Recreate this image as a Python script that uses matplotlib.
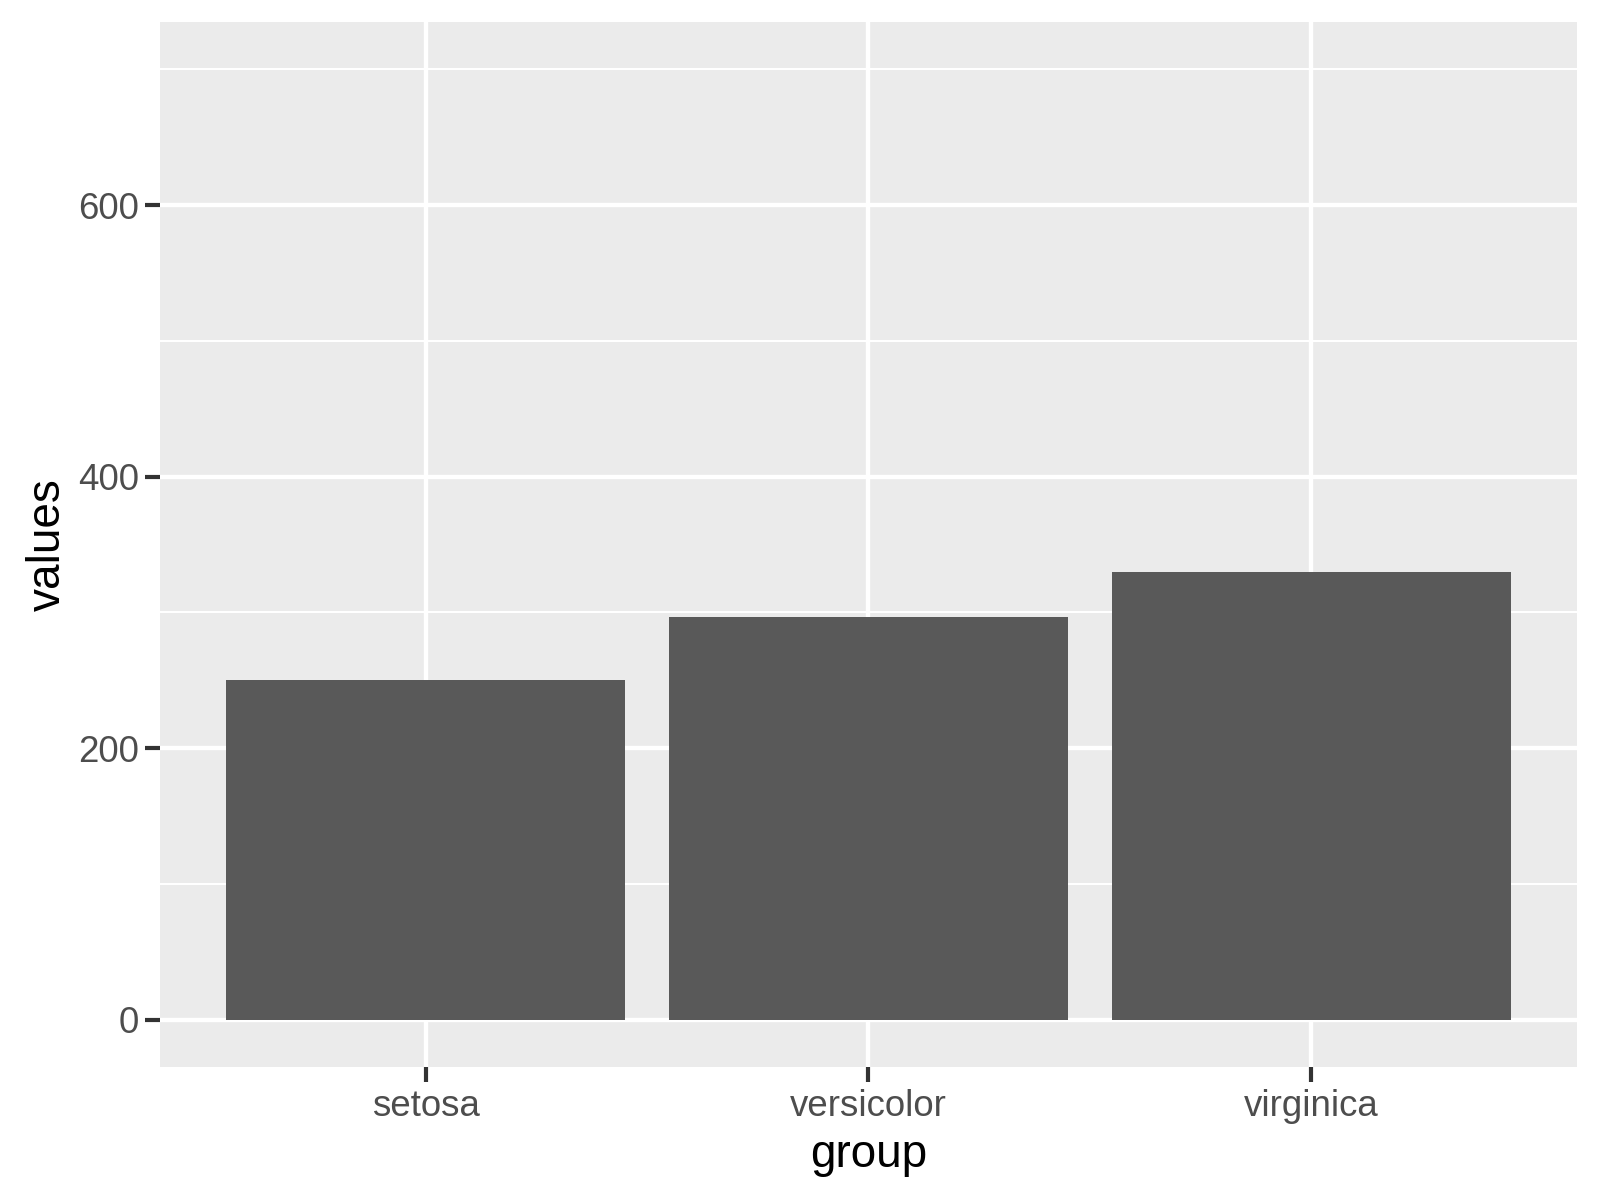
import matplotlib.pyplot as plt

groups = ['setosa', 'versicolor', 'virginica']
values = [250.3, 296.8, 329.4]

y_ticks = [0, 200, 400, 600]
y_minor = [100, 300, 500, 700]

plt.rcParams['font.family'] = ['Liberation Sans', 'DejaVu Sans']

fig = plt.figure(figsize=(16, 12), dpi=100)
ax = fig.add_axes([0.1, 0.1108, 0.8856, 0.8709])
ax.set_facecolor('#EBEBEB')

x = list(range(len(groups)))
ax.bar(x, values, width=0.9, color='#595959', zorder=3)

ax.set_xlim(-0.6, 2.6)
ax.set_ylim(-35, 735)
ax.set_xticks(x)
ax.set_xticklabels(groups)
ax.set_yticks(y_ticks)
ax.set_yticks(y_minor, minor=True)

ax.grid(which='major', color='white', linewidth=3.1, zorder=1)
ax.grid(which='minor', axis='y', color='white', linewidth=1.5, zorder=1)
ax.set_axisbelow(True)

for s in ax.spines.values():
    s.set_visible(False)

ax.tick_params(which='major', length=11, width=3, color='#333333',
               labelsize=26.4, labelcolor='#4D4D4D')
ax.tick_params(axis='y', pad=4)
ax.tick_params(axis='x', pad=5)
ax.tick_params(which='minor', length=0)

ax.set_xlabel('group', fontsize=33, color='black', labelpad=6)
ax.set_ylabel('values', fontsize=33, color='black', labelpad=6)

fig.savefig('out.png', dpi=100)
